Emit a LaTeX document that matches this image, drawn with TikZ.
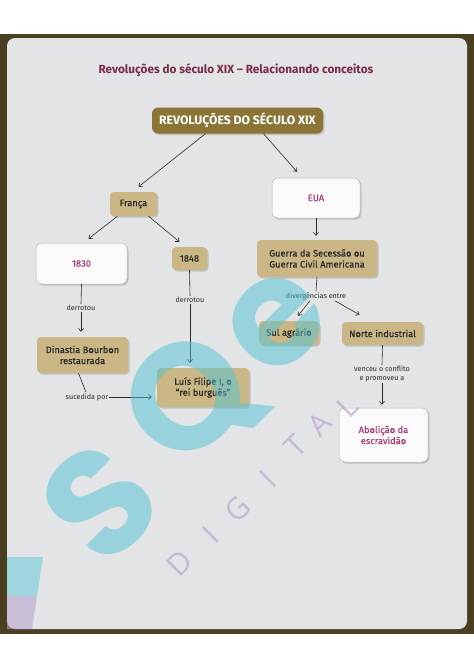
\documentclass[tikz,border=0pt]{standalone}
\usepackage{fontspec}
\setmainfont{Fira Sans}
\newfontfamily\boxfont[FakeBold=0.6]{Fira Sans}
\newfontfamily\wmfont{Poppins}
\newfontfamily\dgfont{Open Sans}
\usetikzlibrary{arrows.meta,shadows,calc}
\definecolor{framec}{HTML}{4B3F22}
\definecolor{panelc}{HTML}{E2E4E5}
\definecolor{olivec}{HTML}{8A7536}
\definecolor{tanc}{HTML}{CBB785}
\definecolor{magc}{HTML}{A83E78}
\definecolor{titlec}{HTML}{7A2A50}
\definecolor{inkc}{HTML}{2A2A2A}
\definecolor{wmcyan}{HTML}{4FC3D6}
\definecolor{wmlav}{HTML}{B7A2CF}
\begin{document}
\begin{tikzpicture}[x=1pt,y=-1pt,
  box/.style={inner sep=0pt, align=center, rounded corners=4pt, text=inkc,
    font=\boxfont\fontsize{9.3}{11}\selectfont,
    drop shadow={shadow xshift=1.5pt,shadow yshift=-1.5pt,opacity=0.35}},
  tanbox/.style={box, fill=tanc},
  whitebox/.style={box, fill=white!96!gray, draw=gray!55, line width=0.5pt, rounded corners=6pt, text=magc},
  lbl/.style={inner sep=1pt, align=center, text=inkc, font=\fontsize{7.2}{8.6}\selectfont},
  link/.style={draw=inkc, line width=0.6pt},
  arr/.style={link, -{Straight Barb[length=3pt,width=5pt]}},
  wm/.style={rotate=45, text=wmcyan, text opacity=0.5, inner sep=0pt,
    font=\wmfont\bfseries\fontsize{150}{150}\selectfont},
  dg/.style={rotate=45, text=wmlav, text opacity=0.65, inner sep=0pt,
    font=\dgfont\fontsize{30}{30}\selectfont}
]
\useasboundingbox (0,0) rectangle (474,670);
\fill[white] (0,0) rectangle (474,670);
\fill[framec] (0,34) rectangle (474,634);
\fill[panelc, rounded corners=8pt] (7,38) rectangle (467,629);

% title
\node[text=titlec, font=\bfseries\fontsize{11.8}{14}\selectfont] (title) at (236,70) {Revoluções do século XIX – Relacionando conceitos};

% nodes
\node[box, fill=olivec, text=white, font=\bfseries\fontsize{12.2}{14}\selectfont,
  minimum width=171pt, minimum height=26pt, rounded corners=6pt] (top) at (237.5,120.5) {REVOLUÇÕES DO SÉCULO XIX};
\node[tanbox, minimum width=47pt, minimum height=24pt] (franca) at (133.5,204) {França};
\node[whitebox, minimum width=88pt, minimum height=40pt] (eua) at (316,198) {EUA};
\node[whitebox, minimum width=91pt, minimum height=41pt] (n1830) at (81.5,263.5) {1830};
\node[tanbox, minimum width=35pt, minimum height=23pt] (n1848) at (189.5,258.5) {1848};
\node[tanbox, minimum width=120pt, minimum height=37pt] (guerra) at (317,258.5) {Guerra da Secessão ou\\Guerra Civil Americana};
\node[tanbox, minimum width=91pt, minimum height=36pt] (bourbon) at (82.5,355) {Dinastia Bourbon\\restaurada};
\node[tanbox, minimum width=92pt, minimum height=39pt] (luis) at (203,387.5) {Luís Filipe I, o\\“rei burguês”};
\node[tanbox, minimum width=60pt, minimum height=24pt] (sul) at (289,333) {Sul agrário};
\node[tanbox, minimum width=81pt, minimum height=23pt] (norte) at (382.5,333.5) {Norte industrial};
\node[whitebox, minimum width=89pt, minimum height=54pt] (abol) at (383.5,435) {Abolição da\\escravidão};

% labels
\node[lbl] (d1) at (81,308) {derrotou};
\node[lbl] (d2) at (190,300) {derrotou};
\node[lbl] (suc) at (87,397) {sucedida por};
\node[lbl] (div) at (316,296) {divergências entre};
\node[lbl] (ven) at (382,374) {venceu o conflito\\e promoveu a};

% connectors
\draw[arr] ([xshift=-32pt]top.south) -- ($(franca.north)+(5,-5)$);
\draw[arr] ([xshift=26pt]top.south) -- ($(eua.north)+(-19,-6)$);
\draw[arr] ([xshift=-16pt]franca.south) -- ($(n1830.north)+(7,-4)$);
\draw[arr] ([xshift=15pt]franca.south) -- ($(n1848.north)+(-10,-5)$);
\draw[arr, shorten >=4pt] (eua.south) -- (eua.south |- guerra.north);
\draw[link] (n1830.south) -- (d1.north);
\draw[arr, shorten >=5pt] (d1.south) -- (d1.south |- bourbon.north);
\draw[link] (n1848.south) -- (d2.north);
\draw[arr, shorten >=5pt] (d2.south) -- (d2.south |- luis.north);
\draw[link] ([xshift=-4pt]bourbon.south) -- ([xshift=-1pt]suc.north);
\draw[arr, shorten >=5pt] (suc.east) -- (suc.east -| luis.west);
\draw[link] (guerra.south) -- (div.north);
\draw[arr] ([xshift=-6pt]div.south) -- ($(sul.north)+(9,-5)$);
\draw[arr] ([xshift=19pt]div.south) -- ($(norte.north)+(-23,-7)$);
\draw[link] (norte.south) -- (ven.north);
\draw[arr, shorten >=3pt] (ven.south) -- (ven.south |- abol.north);

% watermark
\node[wm] (wmS) at (100,502) {S};
\node[wm] (wmQ) at (192,402) {Q};
\node[wm] (wmE) at (277,322) {e};
\node[dg] (g1) at (180,563) {D};
\node[dg] (g2) at (211,535) {I};
\node[dg] (g3) at (238,509) {G};
\node[dg] (g4) at (268,479) {I};
\node[dg] (g5) at (296,446) {T};
\node[dg] (g6) at (320,424) {A};
\node[dg] (g7) at (347,406) {L};
\fill[wmcyan, opacity=0.45] (7,557) -- (43,557) -- (37,596) -- (7,596) -- cycle;
\fill[wmlav, opacity=0.55] (7,596) -- (37,596) -- (32,629) -- (7,629) -- cycle;
\end{tikzpicture}
\end{document}
